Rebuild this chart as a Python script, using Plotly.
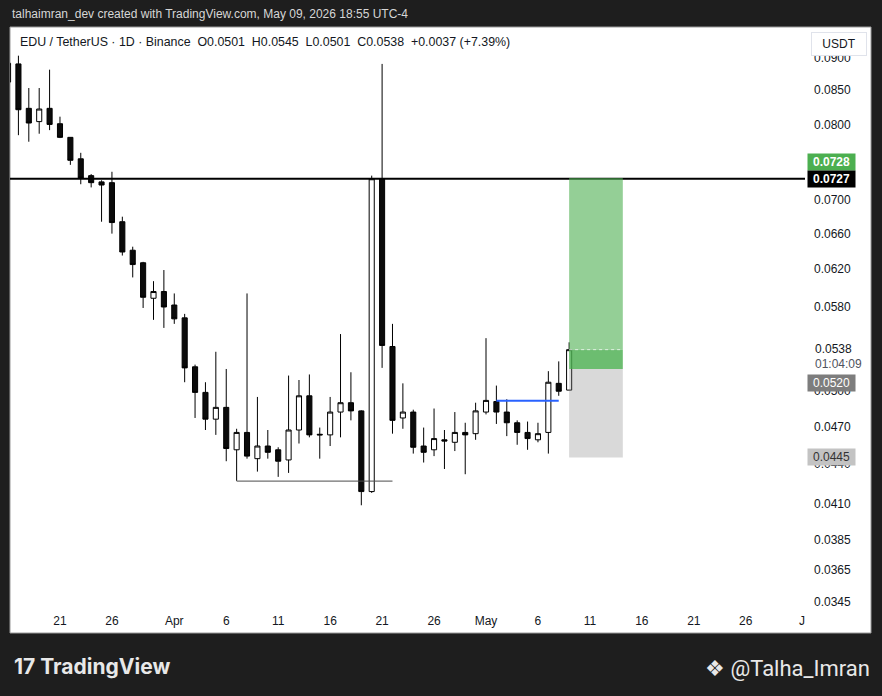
import math
import pandas as pd
import plotly.graph_objects as go

# ---------------- data ----------------
dates = pd.date_range("2026-03-16", "2026-05-09", freq="D")

opens = [0.0862, 0.0890, 0.0823, 0.0804, 0.0823, 0.0801, 0.0782, 0.0753, 0.0731, 0.0723,
         0.0722, 0.0674, 0.0641, 0.0627, 0.0589, 0.0596, 0.0582, 0.0569, 0.0522, 0.0499,
         0.0476, 0.0486, 0.0451, 0.0465, 0.0444, 0.0454, 0.0451, 0.0443, 0.0467, 0.0496,
         0.04635, 0.0463, 0.0482, 0.0490, 0.0483, 0.0419, 0.0727, 0.0541, 0.0477, 0.0482,
         0.0454, 0.0451, 0.0459, 0.0457, 0.0465, 0.0464, 0.0482, 0.0491, 0.0482, 0.0473,
         0.0465, 0.0459, 0.0465, 0.0507, 0.0501]
highs = [0.0895, 0.0903, 0.0853, 0.0853, 0.0881, 0.0811, 0.0782, 0.0761, 0.0733, 0.0725,
         0.0736, 0.0680, 0.0645, 0.0628, 0.0607, 0.0619, 0.0594, 0.0573, 0.0524, 0.0508,
         0.0536, 0.0520, 0.0468, 0.0594, 0.0495, 0.0467, 0.0453, 0.0514, 0.0510, 0.0515,
         0.0469, 0.0495, 0.0553, 0.0517, 0.04835, 0.0731, 0.0890, 0.0563, 0.0507, 0.0484,
         0.0469, 0.0485, 0.0467, 0.0482, 0.0473, 0.0490, 0.0549, 0.0505, 0.0493, 0.0475,
         0.0474, 0.0473, 0.0518, 0.0527, 0.0545]
lows = [0.0857, 0.0785, 0.0776, 0.0787, 0.0792, 0.0781, 0.0745, 0.0720, 0.0716, 0.0674,
        0.0660, 0.0635, 0.0611, 0.0579, 0.0567, 0.0559, 0.0563, 0.0508, 0.0477, 0.0467,
        0.0463, 0.0442, 0.0427, 0.0444, 0.0434, 0.0444, 0.0430, 0.0433, 0.0456, 0.0461,
        0.0444, 0.0454, 0.0461, 0.0475, 0.0409, 0.0418, 0.0521, 0.0464, 0.0468, 0.0448,
        0.0441, 0.0446, 0.0436, 0.0450, 0.0432, 0.0459, 0.0480, 0.0472, 0.0462, 0.0455,
        0.0451, 0.0457, 0.0448, 0.0496, 0.0501]
closes = [0.0891, 0.0821, 0.0802, 0.0822, 0.0800, 0.0782, 0.0751, 0.0728, 0.0722, 0.0719,
          0.0673, 0.0639, 0.0625, 0.0590, 0.0596, 0.0580, 0.0568, 0.0521, 0.0499, 0.0476,
          0.0486, 0.0452, 0.0465, 0.0446, 0.0454, 0.0449, 0.0442, 0.0467, 0.0496, 0.0463,
          0.0463, 0.0482, 0.0490, 0.0483, 0.0419, 0.0727, 0.0542, 0.0475, 0.0482, 0.0453,
          0.0449, 0.0460, 0.0458, 0.0465, 0.0463, 0.0483, 0.0492, 0.0482, 0.0473, 0.0465,
          0.0460, 0.0464, 0.0508, 0.0500, 0.0538]

price_ticks = [0.0900, 0.0850, 0.0800, 0.0700, 0.0660, 0.0620, 0.0580, 0.0500, 0.0470,
               0.0440, 0.0410, 0.0385, 0.0365, 0.0345]
price_tick_text = ["%.4f" % v for v in price_ticks]

date_ticks = ["2026-03-21", "2026-03-26", "2026-04-01", "2026-04-06", "2026-04-11",
              "2026-04-16", "2026-04-21", "2026-04-26", "2026-05-01", "2026-05-06",
              "2026-05-11", "2026-05-16", "2026-05-21", "2026-05-26"]
date_tick_text = ["21", "26", "Apr", "6", "11", "16", "21", "26", "May", "6",
                  "11", "16", "21", "26"]

resistance_level = 0.0727
target_level = 0.0728
entry_level = 0.0520
stop_level = 0.0445
last_price = 0.0538
blue_level = 0.04917
blue_span = ["2026-05-02", "2026-05-08"]
support_level = 0.04268
support_span = ["2026-04-07", "2026-04-22"]
position_span = ["2026-05-09", "2026-05-14 04:00"]

# ---------------- layout helpers ----------------
W, H = 882, 696
L, R, T, B = 10, 805, 27, 608


def px_x(px):
    return (px - L) / (R - L)


def px_y(py):
    return (B - py) / (B - T)


def price_to_py(p):
    return 90 + math.log(0.085 / p) * 567.6


FONT = "Liberation Sans"
DARK = "#131722"

fig = go.Figure()
fig.add_trace(go.Candlestick(
    x=dates, open=opens, high=highs, low=lows, close=closes,
    increasing=dict(line=dict(color="#000000", width=1), fillcolor="#ffffff"),
    decreasing=dict(line=dict(color="#000000", width=1), fillcolor="#0b0b0b"),
    hoverinfo="skip", showlegend=False,
))

shapes = []
# white chart panel
shapes.append(dict(type="rect", xref="paper", yref="paper", x0=0, x1=px_x(871),
                   y0=px_y(633), y1=px_y(27), fillcolor="#ffffff",
                   line=dict(color="#9a9a9a", width=1), layer="below"))
# resistance line
shapes.append(dict(type="line", xref="paper", yref="y", x0=0, x1=1,
                   y0=resistance_level, y1=resistance_level,
                   line=dict(color="#000000", width=2)))
# support line
shapes.append(dict(type="line", xref="x", yref="y", x0=support_span[0], x1=support_span[1],
                   y0=support_level, y1=support_level,
                   line=dict(color="#4a4a4a", width=1)))
# blue line
shapes.append(dict(type="line", xref="x", yref="y", x0=blue_span[0], x1=blue_span[1],
                   y0=blue_level, y1=blue_level,
                   line=dict(color="#2962ff", width=2)))
# long position tool
shapes.append(dict(type="rect", xref="x", yref="y", x0=position_span[0], x1=position_span[1],
                   y0=last_price, y1=target_level, fillcolor="rgba(76,175,80,0.6)",
                   line=dict(width=0)))
shapes.append(dict(type="rect", xref="x", yref="y", x0=position_span[0], x1=position_span[1],
                   y0=entry_level, y1=last_price, fillcolor="rgba(76,175,80,0.82)",
                   line=dict(width=0)))
shapes.append(dict(type="rect", xref="x", yref="y", x0=position_span[0], x1=position_span[1],
                   y0=stop_level, y1=entry_level, fillcolor="rgba(128,128,128,0.3)",
                   line=dict(width=0)))
shapes.append(dict(type="line", xref="x", yref="y", x0=position_span[0], x1=position_span[1],
                   y0=last_price, y1=last_price,
                   line=dict(color="rgba(255,255,255,0.7)", width=1, dash="dot")))

annotations = []


def axis_box(text, py, bg, fg, bold=False):
    annotations.append(dict(
        xref="paper", yref="paper", x=px_x(807), y=px_y(py), xanchor="left", yanchor="middle",
        text=("<b>%s</b>" % text) if bold else text, showarrow=False,
        font=dict(family=FONT, size=12, color=fg), bgcolor=bg,
        width=45, height=14, borderpad=1, align="center"))


axis_box("%.4f" % target_level, 162, "#4caf50", "#ffffff", bold=True)
axis_box("%.4f" % resistance_level, price_to_py(resistance_level), "#000000", "#ffffff", bold=True)
axis_box("%.4f" % entry_level, 383, "#7d7d7d", "#ffffff")
axis_box("%.4f" % stop_level, price_to_py(stop_level), "#c3c3c3", "#333333")
# current price label + countdown
annotations.append(dict(xref="paper", yref="paper", x=px_x(813), y=px_y(349),
                        xanchor="left", yanchor="middle", text="%.4f" % last_price,
                        showarrow=False, bgcolor="#ffffff",
                        font=dict(family=FONT, size=12, color=DARK)))
annotations.append(dict(xref="paper", yref="paper", x=px_x(813), y=px_y(364),
                        xanchor="left", yanchor="middle", text="01:04:09",
                        showarrow=False, font=dict(family=FONT, size=12, color="#50535e")))
# USDT box
annotations.append(dict(xref="paper", yref="paper", x=px_x(839), y=px_y(44),
                        xanchor="center", yanchor="middle", text="USDT", showarrow=False,
                        font=dict(family=FONT, size=12, color=DARK), bgcolor="#ffffff",
                        bordercolor="#e0e3eb", borderwidth=1, width=50, height=18, borderpad=2))
# clipped "Jun" label
annotations.append(dict(xref="paper", yref="paper", x=px_x(802), y=px_y(621),
                        xanchor="center", yanchor="middle", text="J", showarrow=False,
                        font=dict(family=FONT, size=12, color=DARK)))
# header
annotations.append(dict(xref="paper", yref="paper", x=px_x(10), y=px_y(14),
                        xanchor="left", yanchor="middle",
                        text="talhaimran_dev created with TradingView.com, May 09, 2026 18:55 UTC-4",
                        showarrow=False, font=dict(family=FONT, size=12, color="#d6d6d6")))
annotations.append(dict(xref="paper", yref="paper", x=px_x(18), y=px_y(42),
                        xanchor="left", yanchor="middle",
                        text="EDU / TetherUS · 1D · Binance  O0.0501  H0.0545  L0.0501  C0.0538  +0.0037 (+7.39%)",
                        showarrow=False, font=dict(family=FONT, size=12.4, color=DARK)))
# footer
annotations.append(dict(xref="paper", yref="paper", x=px_x(12), y=px_y(666),
                        xanchor="left", yanchor="middle", text="<b>17 TradingView</b>",
                        showarrow=False, font=dict(family="Inter", size=21, color="#e8e8e8")))
annotations.append(dict(xref="paper", yref="paper", x=px_x(872), y=px_y(668),
                        xanchor="right", yanchor="middle", text="❖ @Talha_Imran",
                        showarrow=False, font=dict(family="Roboto", size=22, color="#e8e8e8")))

fig.update_layout(
    width=W, height=H,
    margin=dict(l=L, r=W - R, t=T, b=H - B, pad=0),
    paper_bgcolor="#1e1e1e", plot_bgcolor="#ffffff",
    showlegend=False, hovermode=False,
    shapes=shapes, annotations=annotations,
    font=dict(family=FONT, size=12, color=DARK),
    xaxis=dict(type="date", range=["2026-03-16 04:33", "2026-05-31 16:48"],
               tickvals=date_ticks, ticktext=date_tick_text, showgrid=False,
               zeroline=False, showline=False, ticks="", ticklabelstandoff=4,
               rangeslider=dict(visible=False),
               tickfont=dict(family=FONT, size=12, color=DARK), fixedrange=True),
    yaxis=dict(type="log", side="right",
               range=[math.log10(0.03413), math.log10(0.09498)],
               tickvals=price_ticks, ticktext=price_tick_text, showgrid=False,
               zeroline=False, showline=False, ticks="", ticklabelstandoff=8,
               tickfont=dict(family=FONT, size=12, color=DARK), fixedrange=True),
)

fig.write_html(
    "out.html",
    config={"displayModeBar": False},
    post_script="document.body.style.margin='0px';document.body.style.background='#1e1e1e';"
                "document.body.style.overflow='hidden';",
)
